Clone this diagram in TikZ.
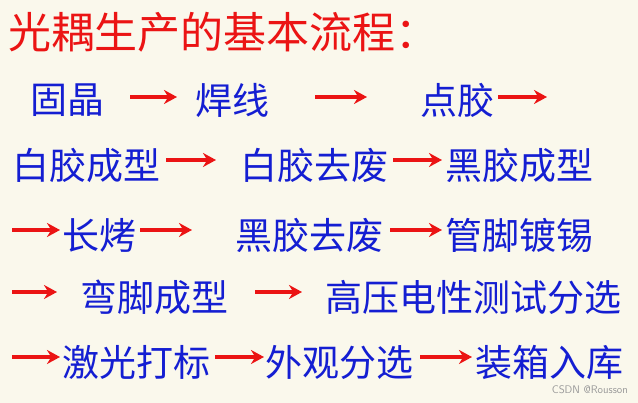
\documentclass[tikz,border=0pt]{standalone}
\usepackage{fontspec}
\setmainfont{Noto Sans CJK SC}
\usetikzlibrary{arrows.meta}
\definecolor{bg}{RGB}{250,248,236}
\definecolor{tred}{RGB}{235,20,20}
\definecolor{tblue}{RGB}{20,30,210}
\tikzset{x=1pt,y=-1pt,
 lbl/.style={text=tblue,font=\fontsize{37}{38}\selectfont,anchor=west,inner sep=0},
 arr/.style={draw=tred,line width=3.5pt,-{Stealth[length=13pt,width=14pt]}}}
\begin{document}
\begin{tikzpicture}
\fill[bg] (0,0) rectangle (638,403);
\useasboundingbox (0,0) rectangle (638,403);
\node[text=tred,font=\fontsize{43}{44}\selectfont,anchor=west,inner sep=0] (title) at (8,32) {光耦生产的基本流程：};
% row 1
\node[lbl] (a1) at (30,100) {固晶};
\node[lbl] (a2) at (195,100) {焊线};
\node[lbl] (a3) at (420,100) {点胶};
\draw[arr] (130,97) -- (177,97);
\draw[arr] (315,97) -- (367,97);
\draw[arr] (498,97) -- (547,97);
% row 2
\node[lbl] (b1) at (12,165) {白胶成型};
\node[lbl] (b2) at (240,165) {白胶去废};
\node[lbl] (b3) at (445,165) {黑胶成型};
\draw[arr] (166,160) -- (216,160);
\draw[arr] (393,160) -- (442,160);
% row 3
\node[lbl] (c1) at (62,235) {长烤};
\node[lbl] (c2) at (235,235) {黑胶去废};
\node[lbl] (c3) at (445,235) {管脚镀锡};
\draw[arr] (12,230) -- (60,230);
\draw[arr] (140,230) -- (192,230);
\draw[arr] (390,230) -- (442,230);
% row 4
\node[lbl] (d1) at (80,297) {弯脚成型};
\node[lbl] (d2) at (325,297) {高压电性测试分选};
\draw[arr] (12,292) -- (57,292);
\draw[arr] (255,292) -- (302,292);
% row 5
\node[lbl] (e1) at (62,362) {激光打标};
\node[lbl] (e2) at (265,362) {外观分选};
\node[lbl] (e3) at (475,362) {装箱入库};
\draw[arr] (12,357) -- (60,357);
\draw[arr] (215,357) -- (264,357);
\draw[arr] (420,357) -- (472,357);
\node[text=gray!80,font=\fontsize{11}{12}\selectfont\sffamily,anchor=east,inner sep=0] (wm) at (628,390) {CSDN @Rousson};
\end{tikzpicture}
\end{document}
